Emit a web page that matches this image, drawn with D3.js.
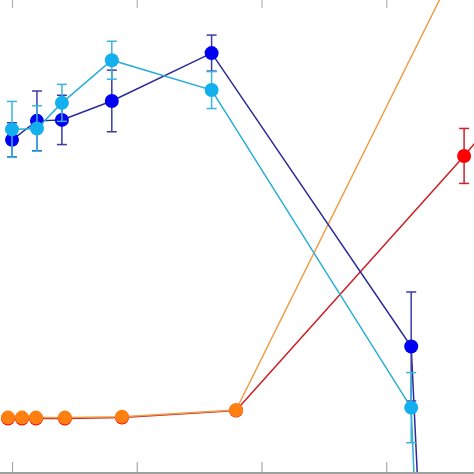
<!DOCTYPE html>
<html>
<head>
<meta charset="utf-8">
<script src="https://cdn.jsdelivr.net/npm/d3@7"></script>
<style>
  html, body { margin: 0; padding: 0; background: #fff; }
  svg { display: block; }
</style>
</head>
<body>
<svg id="chart" width="474" height="474"></svg>
<script>
// ---- data ----
const xTicks = [0, 5, 10, 15];

// dark blue series
const darkX   = [0, 1, 2, 4, 8, 16, 16.51];
const darkY   = [70.5, 74.5, 74.7, 78.7, 88.8, 26.9, -29.3];
const darkErr = [3.6, 6.3, 5.2, 6.5, 3.8, 11.5, null];

// light blue (cyan) series
const cyanX   = [0, 1, 2, 4, 8, 16, 16.51];
const cyanY   = [72.7, 72.9, 78.3, 87.3, 81.0, 14.0, -51.0];
const cyanErr = [5.9, 4.8, 3.9, 4.0, 3.9, 7.4, null];

// orange series
const orangeX = [-0.16, 0.40, 0.96, 2.12, 4.41, 8.98, 18.12];
const orangeY = [11.9, 11.9, 11.9, 11.9, 12.1, 13.5, 110.5];

// red series
const redX   = [-0.16, 0.40, 0.96, 2.12, 4.41, 8.98, 18.12, 36.4];
const redY   = [11.7, 11.7, 11.7, 11.7, 11.9, 13.4, 67.1, 182.5];
const redErr = [null, null, null, null, null, null, 5.8, null];

// ---- drawing ----
const W = 474, H = 474;
const svg = d3.select("#chart");

const x = d3.scaleLinear().domain([-0.481, 18.517]).range([0, W]);
const y = d3.scaleLinear().domain([0, 100]).range([H, 0]);

const plotH = 472;

// axes (tick marks only, as in the cropped reference)
const topAxis = d3.axisBottom(x).tickValues(xTicks).tickSize(8).tickFormat("");
const gTop = svg.append("g").attr("transform", "translate(0,0)").call(topAxis);
gTop.select(".domain").remove();
gTop.selectAll(".tick line").attr("stroke", "#b4b4b4").attr("stroke-width", 1.2);

const botAxis = d3.axisTop(x).tickValues(xTicks).tickSize(10).tickFormat("");
const gBot = svg.append("g").attr("transform", `translate(0,${plotH})`).call(botAxis);
gBot.select(".domain").remove();
gBot.selectAll(".tick line").attr("stroke", "#a8a8a8").attr("stroke-width", 1.2);

svg.append("rect").attr("x", 0).attr("y", plotH).attr("width", W).attr("height", 2)
   .attr("fill", "#a0a0a0");

svg.append("defs").append("clipPath").attr("id", "clip")
  .append("rect").attr("x", 0).attr("y", 0).attr("width", W).attr("height", plotH);

const plot = svg.append("g").attr("clip-path", "url(#clip)");

function drawSeries(xs, ys, errs, lineColor, errColor, markerColor, nMarkers) {
  const pts = xs.map((d, i) => ({x: d, y: ys[i], e: errs ? errs[i] : null}));
  const line = d3.line().x(d => x(d.x)).y(d => y(d.y));
  plot.append("path").datum(pts)
    .attr("d", line).attr("fill", "none")
    .attr("stroke", lineColor).attr("stroke-width", 1.5);
  const eb = pts.filter(d => d.e != null);
  const g = plot.append("g");
  eb.forEach(d => {
    const cx = x(d.x), y1 = y(d.y + d.e), y2 = y(d.y - d.e);
    g.append("line").attr("x1", cx).attr("x2", cx).attr("y1", y1).attr("y2", y2)
      .attr("stroke", errColor).attr("stroke-width", 1.5);
    [y1, y2].forEach(yy => g.append("line")
      .attr("x1", cx - 5).attr("x2", cx + 5).attr("y1", yy).attr("y2", yy)
      .attr("stroke", errColor).attr("stroke-width", 1.5));
  });
  plot.append("g").selectAll("circle").data(pts.slice(0, nMarkers)).join("circle")
    .attr("cx", d => x(d.x)).attr("cy", d => y(d.y)).attr("r", 7)
    .attr("fill", markerColor);
}

drawSeries(redX, redY, redErr, "#cc2026", "#d0202a", "#ff0000", 7);
drawSeries(orangeX, orangeY, null, "#eea04a", "#eea04a", "#ff8010", 6);
drawSeries(darkX, darkY, darkErr, "#2a2a9a", "#3a3aaa", "#0000f0", 6);
drawSeries(cyanX, cyanY, cyanErr, "#2aaed6", "#3ab4e0", "#14b0ee", 6);
</script>
</body>
</html>
